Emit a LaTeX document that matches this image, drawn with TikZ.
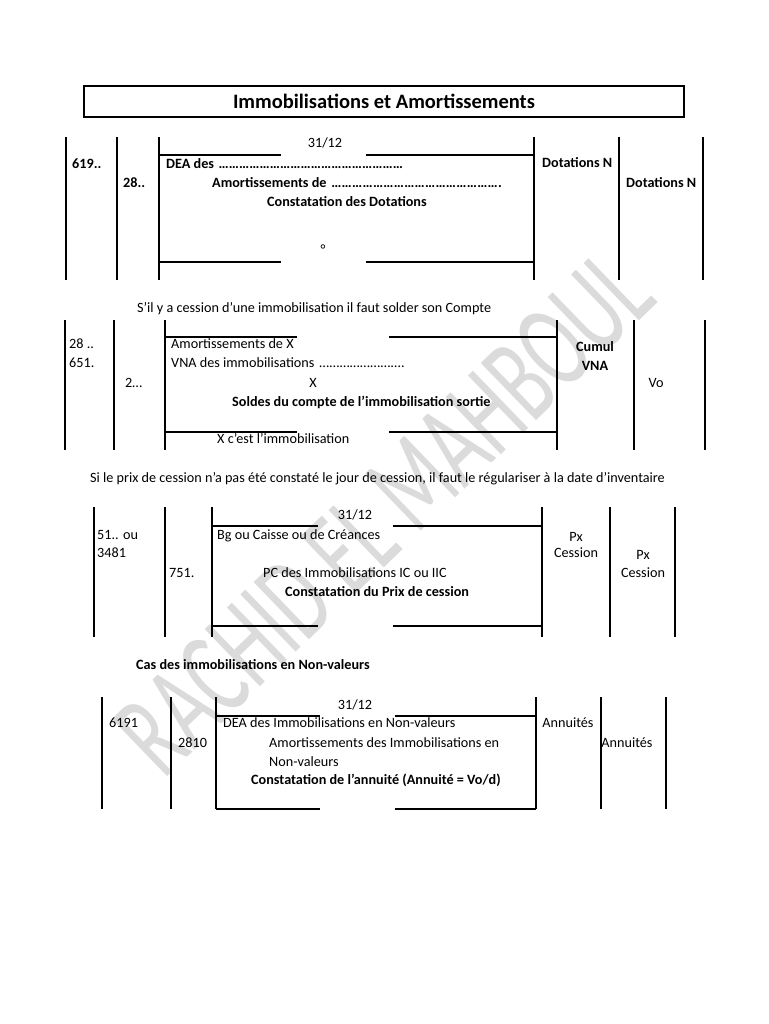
\documentclass[tikz,border=0pt]{standalone}
\usepackage{fontspec}
\setmainfont{Carlito}
\usetikzlibrary{calc}
\newcommand\fs{\fontsize{14.2}{17}\selectfont}
\newcommand\leaderdots[1]{\makebox[#1][l]{\xleaders\hbox{…}\hfill}}
\begin{document}
\begin{tikzpicture}[x=1pt,y=-1pt,
  ln/.style={line width=1.2pt},
  tx/.style={anchor=west,inner sep=0pt,font=\fs,text height=9.1pt,text depth=0pt},
  tc/.style={tx,anchor=center},
  bf/.style={font=\fs\bfseries}]
\useasboundingbox[fill=white] (0,0) rectangle (768,1024);

% watermark
\node[rotate=44,xscale=0.63,text=black!14,inner sep=0pt,font=\fontsize{124}{124}\selectfont] (wm) at (384,512) {RACHID EL MAHBOUL};

% title
\node[draw,line width=1.1pt,minimum width=600pt,minimum height=31pt,inner sep=0pt,font=\fontsize{20.5}{22}\selectfont\bfseries] (title) at (384,101.5) {Immobilisations et Amortissements};

% ---------- section 1 ----------
\foreach \x in {66,117,159,534,619,703} \draw[ln] (\x,137) -- (\x,280);
\draw[ln] (159,155) -- (281,155) (366,155) -- (534,155);
\draw[ln] (159,262) -- (281,262) (366,262) -- (534,262);
\node[tc] (s1date) at (325,143) {31/12};
\node[tx,bf] (s1a) at (72,164) {619..};
\node[tx,bf] (s1b) at (123,183) {28..};
\node[tx,bf] (s1c) at (166,164) {DEA des};
\path let \p1=(s1c.east), \n1={403-\x1-4} in node[tx,bf] (s1cd) at (\x1+4pt,164) {\leaderdots{\n1}};
\node[tx,bf] (s1d) at (212,183) {Amortissements de};
\path let \p1=(s1d.east), \n1={498-\x1-4} in node[tx,bf] (s1dd) at (\x1+4pt,183) {\leaderdots{\n1}.};
\node[tx,bf] (s1e) at (267,202) {Constatation des Dotations};
\node[tc] (s1f) at (323,250) {°};
\node[tx,bf] (s1g) at (542,163) {Dotations N};
\node[tx,bf] (s1h) at (626,183) {Dotations N};

% ---------- section 2 ----------
\node[tx] (h2) at (137,308) {S’il y a cession d’une immobilisation il faut solder son Compte};
\foreach \x in {65,114,165,557,634,705} \draw[ln] (\x,320) -- (\x,450);
\draw[ln] (165,337) -- (297,337) (389,337) -- (557,337);
\draw[ln] (165,432) -- (297,432) (389,432) -- (557,432);
\node[tx] (s2a) at (69,344) {28 ..};
\node[tx] (s2b) at (69,363) {651.};
\node[tx] (s2c) at (125,383) {2…};
\node[tx] (s2d) at (171,344) {Amortissements de X};
\node[tx] (s2e) at (171,363) {VNA des immobilisations};
\path let \p1=(s2e.east), \n1={401-\x1-4} in node[tx] (s2ed) at (\x1+4pt,363) {\leaderdots{\n1}.};
\node[tc] (s2f) at (313,383) {X};
\node[tx,bf] (s2g) at (232,402) {Soldes du compte de l’immobilisation sortie};
\node[tx] (s2h) at (217,439) {X c’est l’immobilisation};
\node[tc,bf] (s2i) at (595,347) {Cumul};
\node[tc,bf] (s2j) at (595,366) {VNA};
\node[tc] (s2k) at (656,383) {Vo};

% ---------- section 3 ----------
\node[tx] (h3) at (90,478) {Si le prix de cession n’a pas été constaté le jour de cession, il faut le régulariser à la date d’inventaire};
\foreach \x in {94,165,212,542,610,675} \draw[ln] (\x,507) -- (\x,637);
\draw[ln] (212,526) -- (318,526) (393,526) -- (542,526);
\draw[ln] (212,626) -- (318,626) (393,626) -- (542,626);
\node[tc] (s3date) at (355,515) {31/12};
\node[tx] (s3a) at (97,535) {51.. ou};
\node[tx] (s3b) at (97,553) {3481};
\node[tx] (s3c) at (169,573) {751.};
\node[tx] (s3d) at (217,535) {Bg ou Caisse ou de Créances};
\node[tx] (s3e) at (263,573) {PC des Immobilisations IC ou IIC};
\node[tx,bf] (s3f) at (285,592) {Constatation du Prix de cession};
\node[tc] (s3g) at (576,537) {Px};
\node[tc] (s3h) at (576,553) {Cession};
\node[tc] (s3i) at (643,555) {Px};
\node[tc] (s3j) at (643,573) {Cession};

% ---------- section 4 ----------
\node[tx,bf] (h4) at (136,665) {Cas des immobilisations en Non-valeurs};
\foreach \x in {102,171,216,536,601,666} \draw[ln] (\x,697) -- (\x,809);
\draw[ln] (216,716) -- (320,716) (395,716) -- (536,716);
\draw[ln] (216,809) -- (320,809) (395,809) -- (536,809);
\node[tc] (s4date) at (355,705) {31/12};
\node[tx] (s4a) at (109,723) {6191};
\node[tx] (s4b) at (178,743) {2810};
\node[tx] (s4c) at (223,723) {DEA des Immobilisations en Non-valeurs};
\node[tx] (s4d) at (269,743) {Amortissements des Immobilisations en};
\node[tx] (s4e) at (269,762) {Non-valeurs};
\node[tx,bf] (s4f) at (251,780) {Constatation de l’annuité (Annuité = Vo/d)};
\node[tc] (s4g) at (568,723) {Annuités};
\node[tc] (s4h) at (627,743) {Annuités};
\end{tikzpicture}
\end{document}
